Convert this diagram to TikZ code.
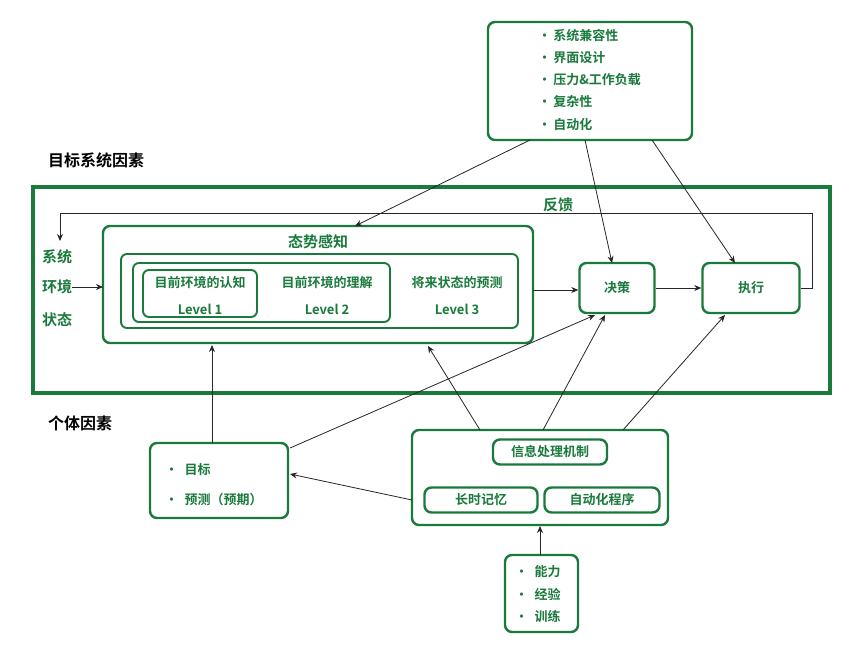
\documentclass[tikz,border=0pt]{standalone}
\usepackage{fontspec}
\setmainfont{Noto Sans CJK SC Bold}
\usetikzlibrary{arrows.meta}
\definecolor{g}{HTML}{1A7A3C}
\begin{document}
\begin{tikzpicture}[x=1pt,y=-1pt,font=\fontsize{13}{15}\selectfont,
  bx/.style={draw=g,line width=2.4pt,rounded corners=7pt},
  gt/.style={text=g,inner sep=0pt},
  ar/.style={-{Stealth[length=7pt,width=6pt]},line width=0.8pt,black!85}]
\useasboundingbox[fill=white] (0,0) rectangle (866,650);
% top box
\draw[bx] (488,22) rectangle (692,140);
\coordinate (tb1) at (530,140);\coordinate (tb2) at (585,140);\coordinate (tb3) at (652,140);
\foreach \t/\y in {系统兼容性/36,界面设计/58,压力\&工作负载/80,复杂性/102,自动化/125}
  \node[gt,anchor=west] at (538,\y) {·\,\t};
\node[anchor=west,font=\fontsize{16}{18}\selectfont,inner sep=0pt] (sysf) at (48,160) {目标系统因素};
\draw[draw=g,line width=3.4pt] (33,187) rectangle (830,393);
\node[gt,font=\fontsize{15}{17}\selectfont] (fb) at (558,205) {反馈};
% env state
\node[gt,font=\fontsize{15}{17}\selectfont] (s1) at (57,257) {系统};
\node[gt,font=\fontsize{15}{17}\selectfont] (s2) at (57,287) {环境};
\node[gt,font=\fontsize{15}{17}\selectfont] (s3) at (57,320) {状态};
% SA
\draw[bx] (103,226) rectangle (533,343);
\node (sa) at (318,285) [minimum width=430pt,minimum height=117pt] {};
\node[gt,font=\fontsize{15}{17}\selectfont] at (318,242) {态势感知};
\draw[draw=g,line width=1.9pt,rounded corners=6pt] (121,254) rectangle (518,328);
\draw[draw=g,line width=1.9pt,rounded corners=6pt] (133,263) rectangle (390,322);
\draw[draw=g,line width=1.9pt,rounded corners=6pt] (143,270) rectangle (257,317);
\node[gt] at (200,283) {目前环境的认知};\node[gt] at (200,309) {Level 1};
\node[gt] at (327,283) {目前环境的理解};\node[gt] at (327,309) {Level 2};
\node[gt] at (457,283) {将来状态的预测};\node[gt] at (457,309) {Level 3};
% decision / action
\node[bx,gt,minimum width=75pt,minimum height=50pt] (dec) at (617,288) {决策};
\node[bx,gt,minimum width=97pt,minimum height=50pt] (act) at (751,288) {执行};
\draw[ar] (533,290) -- (dec.west |- 0,290);
\draw[ar] (dec) -- (act);
\coordinate (fbr) at (812,213);
\draw[ar] (act.east) -- (812,288) -- (fbr) -- (60,213) -- (60,241);
\draw[ar] (s2.east) -- (103,287);
\draw[ar] (tb1) -- (355,226);
\draw[ar] (tb2) -- (612,263);
\draw[ar] (tb3) -- (735,263);
% individual
\node[anchor=west,font=\fontsize{16}{18}\selectfont,inner sep=0pt] at (48,423) {个体因素};
\draw[bx] (150,443) rectangle (288,518);
\node (goal) at (219,480) [minimum width=138pt,minimum height=75pt] {};
\node[gt,anchor=west] at (165,470) {·\enspace 目标};
\node[gt,anchor=west] at (165,500) {·\enspace 预测（预期）};
\draw[ar] (212,443) -- (212,345);
\draw[ar] (290,448) -- (595,315);
\draw[bx] (412,430) rectangle (668,525);
\node (info) at (540,477) [minimum width=256pt,minimum height=95pt] {};
\node[bx,gt,minimum width=114pt,minimum height=25pt] at (550,452) {信息处理机制};
\node[bx,gt,minimum width=113pt,minimum height=25pt] at (481,500) {长时记忆};
\node[bx,gt,minimum width=115pt,minimum height=25pt] at (602,500) {自动化程序};
\draw[ar] (480,430) -- (428,346);
\draw[ar] (543,430) -- (605,315);
\draw[ar] (623,430) -- (725,315);
\draw[ar] (412,500) -- (290,474);
\draw[bx] (505,555) rectangle (578,632);
\node (abil) at (541,593) [minimum width=73pt,minimum height=77pt] {};
\foreach \t/\y in {能力/572,经验/594,训练/616}
  \node[gt,anchor=west] at (515,\y) {·\enspace\t};
\draw[ar] (540,555) -- (540,526);
\end{tikzpicture}
\end{document}
